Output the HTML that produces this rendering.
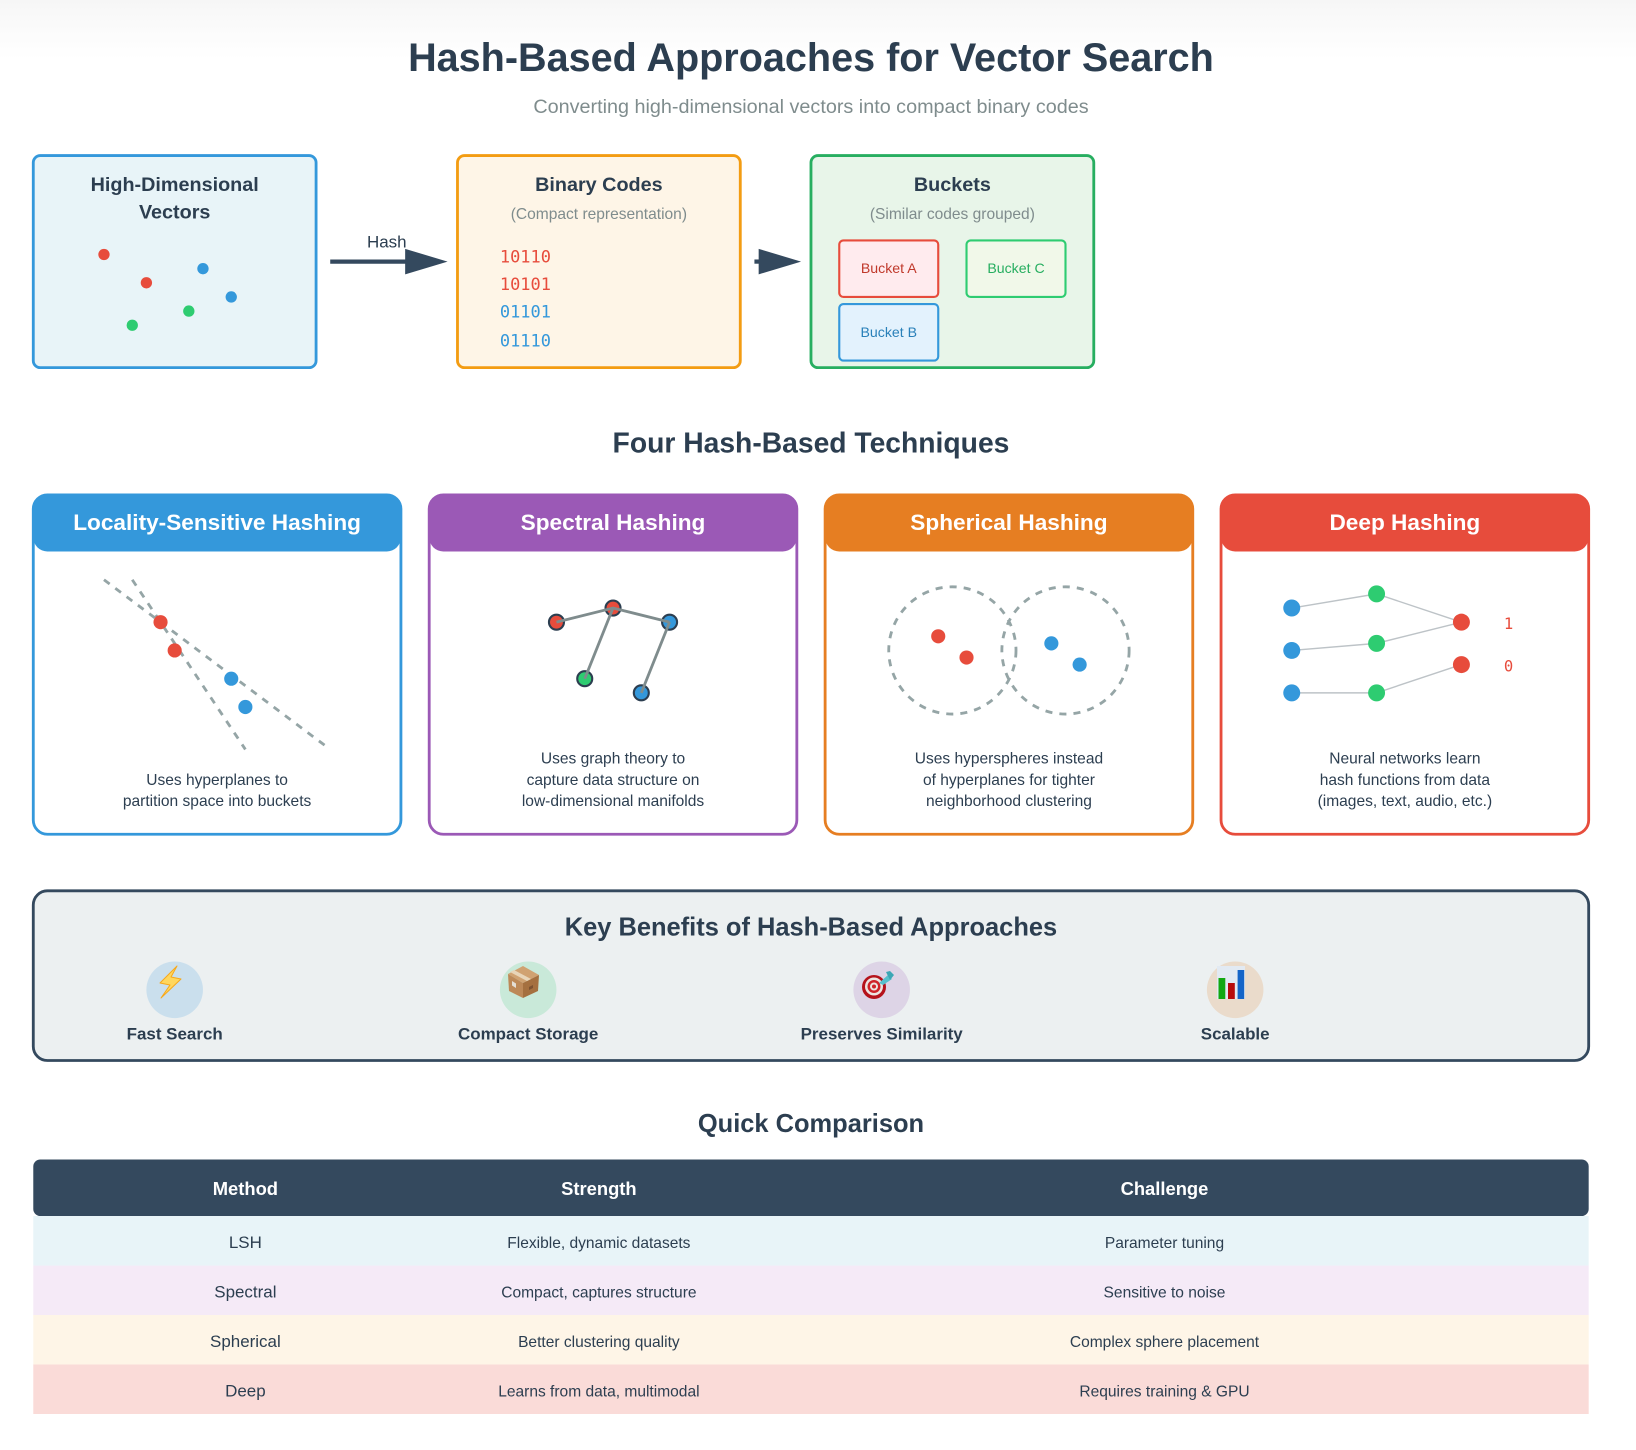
<!DOCTYPE html>
<html lang="en">
<head>
<meta charset="utf-8">
<title>Hash-Based Approaches for Vector Search</title>
<style>
html,body{margin:0;padding:0;background:#fff;width:1636px;height:1450px;overflow:hidden}
svg{display:block;position:absolute;left:0;top:0}
text{font-family:"Liberation Sans",Arial,sans-serif;fill:#2c3e50}
.c{text-anchor:middle}
.b{font-weight:bold}
.m{font-family:"DejaVu Sans Mono","Liberation Mono",monospace;font-size:12px}
.g{fill:#7f8c8d;font-size:11px}
.t11{font-size:11px}
.t12{font-size:12px}
.w{fill:#fff;font-weight:bold;font-size:16px}
.d{stroke:#95a5a6;stroke-width:2;stroke-dasharray:5,5;fill:none}
</style>
</head>
<body>
<svg width="1636" height="1450" viewBox="0 0 1636 1450" xmlns="http://www.w3.org/2000/svg">
<defs>
<linearGradient id="top" x1="0" y1="0" x2="0" y2="1">
<stop offset="0" stop-color="#f6f6f6"/>
<stop offset="0.5" stop-color="#fbfbfb"/>
<stop offset="1" stop-color="#ffffff"/>
</linearGradient>
</defs>
<rect x="0" y="0" width="1636" height="60" fill="url(#top)"/>
<g transform="translate(5 0) scale(1.414)">
<text x="570" y="50.3" class="c b" style="font-size:28px">Hash-Based Approaches for Vector Search</text>
<text x="570" y="80" class="c" style="font-size:14px;fill:#7f8c8d">Converting high-dimensional vectors into compact binary codes</text>

<rect x="20" y="110" width="200" height="150" rx="5" fill="#e8f4f8" stroke="#3498db" stroke-width="2"/>
<text x="120" y="135" class="c b" style="font-size:14px">High-Dimensional</text>
<text x="120" y="154.5" class="c b" style="font-size:14px">Vectors</text>
<circle cx="70" cy="180" r="4" fill="#e74c3c"/>
<circle cx="100" cy="200" r="4" fill="#e74c3c"/>
<circle cx="140" cy="190" r="4" fill="#3498db"/>
<circle cx="160" cy="210" r="4" fill="#3498db"/>
<circle cx="130" cy="220" r="4" fill="#2ecc71"/>
<circle cx="90" cy="230" r="4" fill="#2ecc71"/>

<line x1="230" y1="185" x2="290" y2="185" stroke="#34495e" stroke-width="3"/>
<polygon points="283,176 313,185 283,194" fill="#34495e"/>
<text x="270" y="175" class="c t12">Hash</text>

<rect x="320" y="110" width="200" height="150" rx="5" fill="#fef5e7" stroke="#f39c12" stroke-width="2"/>
<text x="420" y="135" class="c b" style="font-size:14px">Binary Codes</text>
<text x="420" y="155" class="c g">(Compact representation)</text>
<text x="350" y="185.5" class="m" style="fill:#e74c3c">10110</text>
<text x="350" y="205" class="m" style="fill:#e74c3c">10101</text>
<text x="350" y="224.5" class="m" style="fill:#3498db">01101</text>
<text x="350" y="245" class="m" style="fill:#3498db">01110</text>

<line x1="530" y1="185" x2="540" y2="185" stroke="#34495e" stroke-width="3"/>
<polygon points="533,176 563,185 533,194" fill="#34495e"/>

<rect x="570" y="110" width="200" height="150" rx="5" fill="#e8f5e9" stroke="#27ae60" stroke-width="2"/>
<text x="670" y="135" class="c b" style="font-size:14px">Buckets</text>
<text x="670" y="155" class="c g">(Similar codes grouped)</text>
<rect x="590" y="170" width="70" height="40" rx="3" fill="#ffebee" stroke="#e74c3c" stroke-width="1.5"/>
<text x="625" y="193" class="c" style="font-size:10px;fill:#c0392b">Bucket A</text>
<rect x="680" y="170" width="70" height="40" rx="3" fill="#f1f8e9" stroke="#2ecc71" stroke-width="1.5"/>
<text x="715" y="193" class="c" style="font-size:10px;fill:#27ae60">Bucket C</text>
<rect x="590" y="215" width="70" height="40" rx="3" fill="#e3f2fd" stroke="#3498db" stroke-width="1.5"/>
<text x="625" y="238.5" class="c" style="font-size:10px;fill:#2980b9">Bucket B</text>

<text x="570" y="320" class="c b" style="font-size:20px">Four Hash-Based Techniques</text>

<rect x="20" y="350" width="260" height="240" rx="10" fill="#fff" stroke="#3498db" stroke-width="2"/>
<rect x="20" y="350" width="260" height="40" rx="10" fill="#3498db"/>
<text x="150" y="374.7" class="c w">Locality-Sensitive Hashing</text>
<line x1="70" y1="410" x2="230" y2="530" class="d"/>
<line x1="90" y1="410" x2="170" y2="530" class="d"/>
<circle cx="110" cy="440" r="5" fill="#e74c3c"/>
<circle cx="120" cy="460" r="5" fill="#e74c3c"/>
<circle cx="160" cy="480" r="5" fill="#3498db"/>
<circle cx="170" cy="500" r="5" fill="#3498db"/>
<text x="150" y="555" class="c t11">Uses hyperplanes to</text>
<text x="150" y="570" class="c t11">partition space into buckets</text>

<rect x="300" y="350" width="260" height="240" rx="10" fill="#fff" stroke="#9b59b6" stroke-width="2"/>
<rect x="300" y="350" width="260" height="40" rx="10" fill="#9b59b6"/>
<text x="430" y="374.7" class="c w">Spectral Hashing</text>
<g stroke="#2c3e50" stroke-width="1.5">
<circle cx="390" cy="440" r="5.3" fill="#e74c3c"/>
<circle cx="430" cy="430" r="5.3" fill="#e74c3c"/>
<circle cx="470" cy="440" r="5.3" fill="#3498db"/>
<circle cx="410" cy="480" r="5.3" fill="#2ecc71"/>
<circle cx="450" cy="490" r="5.3" fill="#3498db"/>
</g>
<g stroke="#7f8c8d" stroke-width="2" fill="none">
<polyline points="390,440 430,430 470,440"/>
<line x1="430" y1="430" x2="410" y2="480"/>
<line x1="470" y1="440" x2="450" y2="490"/>
</g>
<text x="430" y="540" class="c t11">Uses graph theory to</text>
<text x="430" y="555" class="c t11">capture data structure on</text>
<text x="430" y="570" class="c t11">low-dimensional manifolds</text>

<rect x="580" y="350" width="260" height="240" rx="10" fill="#fff" stroke="#e67e22" stroke-width="2"/>
<rect x="580" y="350" width="260" height="40" rx="10" fill="#e67e22"/>
<text x="710" y="374.7" class="c w">Spherical Hashing</text>
<circle cx="670" cy="460" r="45" class="d"/>
<circle cx="750" cy="460" r="45" class="d"/>
<circle cx="660" cy="450" r="5" fill="#e74c3c"/>
<circle cx="680" cy="465" r="5" fill="#e74c3c"/>
<circle cx="740" cy="455" r="5" fill="#3498db"/>
<circle cx="760" cy="470" r="5" fill="#3498db"/>
<text x="710" y="540" class="c t11">Uses hyperspheres instead</text>
<text x="710" y="555" class="c t11">of hyperplanes for tighter</text>
<text x="710" y="570" class="c t11">neighborhood clustering</text>

<rect x="860" y="350" width="260" height="240" rx="10" fill="#fff" stroke="#e74c3c" stroke-width="2"/>
<rect x="860" y="350" width="260" height="40" rx="10" fill="#e74c3c"/>
<text x="990" y="374.7" class="c w">Deep Hashing</text>
<g stroke="#bdc3c7" stroke-width="1" fill="none">
<polyline points="910,430 970,420 1030,440"/>
<polyline points="910,460 970,455 1030,440"/>
<polyline points="910,490 970,490 1030,470"/>
</g>
<circle cx="910" cy="430" r="6" fill="#3498db"/>
<circle cx="910" cy="460" r="6" fill="#3498db"/>
<circle cx="910" cy="490" r="6" fill="#3498db"/>
<circle cx="970" cy="420" r="6" fill="#2ecc71"/>
<circle cx="970" cy="455" r="6" fill="#2ecc71"/>
<circle cx="970" cy="490" r="6" fill="#2ecc71"/>
<circle cx="1030" cy="440" r="6" fill="#e74c3c"/>
<circle cx="1030" cy="470" r="6" fill="#e74c3c"/>
<text x="1060" y="445" class="m" style="font-size:11px;fill:#e74c3c">1</text>
<text x="1060" y="475" class="m" style="font-size:11px;fill:#e74c3c">0</text>
<text x="990" y="540" class="c t11">Neural networks learn</text>
<text x="990" y="555" class="c t11">hash functions from data</text>
<text x="990" y="570" class="c t11">(images, text, audio, etc.)</text>

<rect x="20" y="630" width="1100" height="120" rx="10" fill="#ecf0f1" stroke="#34495e" stroke-width="2"/>
<text x="570" y="661.5" class="c b" style="font-size:18px">Key Benefits of Hash-Based Approaches</text>
<circle cx="120" cy="700" r="20" fill="#3498db" opacity="0.18"/>
<text x="120" y="735" class="c b t12">Fast Search</text>
<circle cx="370" cy="700" r="20" fill="#2ecc71" opacity="0.18"/>
<text x="370" y="735" class="c b t12">Compact Storage</text>
<circle cx="620" cy="700" r="20" fill="#9b59b6" opacity="0.18"/>
<text x="620" y="735" class="c b t12">Preserves Similarity</text>
<circle cx="870" cy="700" r="20" fill="#e67e22" opacity="0.18"/>
<text x="870" y="735" class="c b t12">Scalable</text>

<text x="570" y="800.7" class="c b" style="font-size:18px">Quick Comparison</text>
<rect x="20" y="860" width="1100" height="35" fill="#e8f4f8"/>
<rect x="20" y="895" width="1100" height="35" fill="#f5eaf7"/>
<rect x="20" y="930" width="1100" height="35" fill="#fef5e7"/>
<rect x="20" y="965" width="1100" height="35" fill="#fadbd8"/>
<rect x="20" y="820" width="1100" height="40" rx="5" fill="#34495e"/>
<g style="font-size:13px">
<text x="170" y="845" class="c b" style="fill:#fff">Method</text>
<text x="420" y="845" class="c b" style="fill:#fff">Strength</text>
<text x="820" y="845" class="c b" style="fill:#fff">Challenge</text>
</g>
<text x="170" y="882.7" class="c t12">LSH</text>
<text x="420" y="882.7" class="c t11">Flexible, dynamic datasets</text>
<text x="820" y="882.7" class="c t11">Parameter tuning</text>
<text x="170" y="917.5" class="c t12">Spectral</text>
<text x="420" y="917.5" class="c t11">Compact, captures structure</text>
<text x="820" y="917.5" class="c t11">Sensitive to noise</text>
<text x="170" y="952.7" class="c t12">Spherical</text>
<text x="420" y="952.7" class="c t11">Better clustering quality</text>
<text x="820" y="952.7" class="c t11">Complex sphere placement</text>
<text x="170" y="987.7" class="c t12">Deep</text>
<text x="420" y="987.7" class="c t11">Learns from data, multimodal</text>
<text x="820" y="987.7" class="c t11">Requires training &amp; GPU</text>
</g>

<!-- icons in page pixels -->
<polygon points="177,966 160,983 170,985 161,998 181,979 171,977" fill="#ffd75e" stroke="#f7a81b" stroke-width="1" stroke-linejoin="round"/>

<g>
<polygon points="523,966 539,975 523,983 508,974" fill="#d0a271"/>
<polygon points="508,974 523,983 523,998 509,991" fill="#bd8958"/>
<polygon points="539,975 523,983 523,998 538,991" fill="#a5703f"/>
<polygon points="514,970 531,979 527,981 510,972" fill="#e8d5b8"/>
<polygon points="512,981 516,983.5 516,988 512,985.5" fill="#e4dfd6"/>
<polygon points="529,987 533,985 533,988 529,990" fill="#7d5230"/>
</g>

<g>
<line x1="874" y1="986" x2="886" y2="979" stroke="#d9a520" stroke-width="1.5"/>
<circle cx="874" cy="987" r="12" fill="#b5121b"/>
<circle cx="874" cy="986.5" r="9" fill="#ece4e0"/>
<circle cx="874" cy="986.5" r="6.5" fill="#cf2329"/>
<circle cx="874" cy="986.5" r="4" fill="#ece4e0"/>
<circle cx="874" cy="986.5" r="2" fill="#cf2329"/>
<polygon points="879,983 888,975 892,979 883,985" fill="#57c0cc"/>
<polygon points="886,972 890,971 894,975 890,980" fill="#3ba7b5"/>
</g>

<g>
<rect x="1217" y="966" width="28" height="33" fill="#e2eaf3"/>
<rect x="1218.5" y="978" width="6.8" height="21" fill="#12a812"/>
<rect x="1228" y="983" width="6.8" height="16" fill="#b80c0c"/>
<rect x="1237.6" y="970" width="6.6" height="29" fill="#1565c8"/>
</g>
</svg>
</body>
</html>
